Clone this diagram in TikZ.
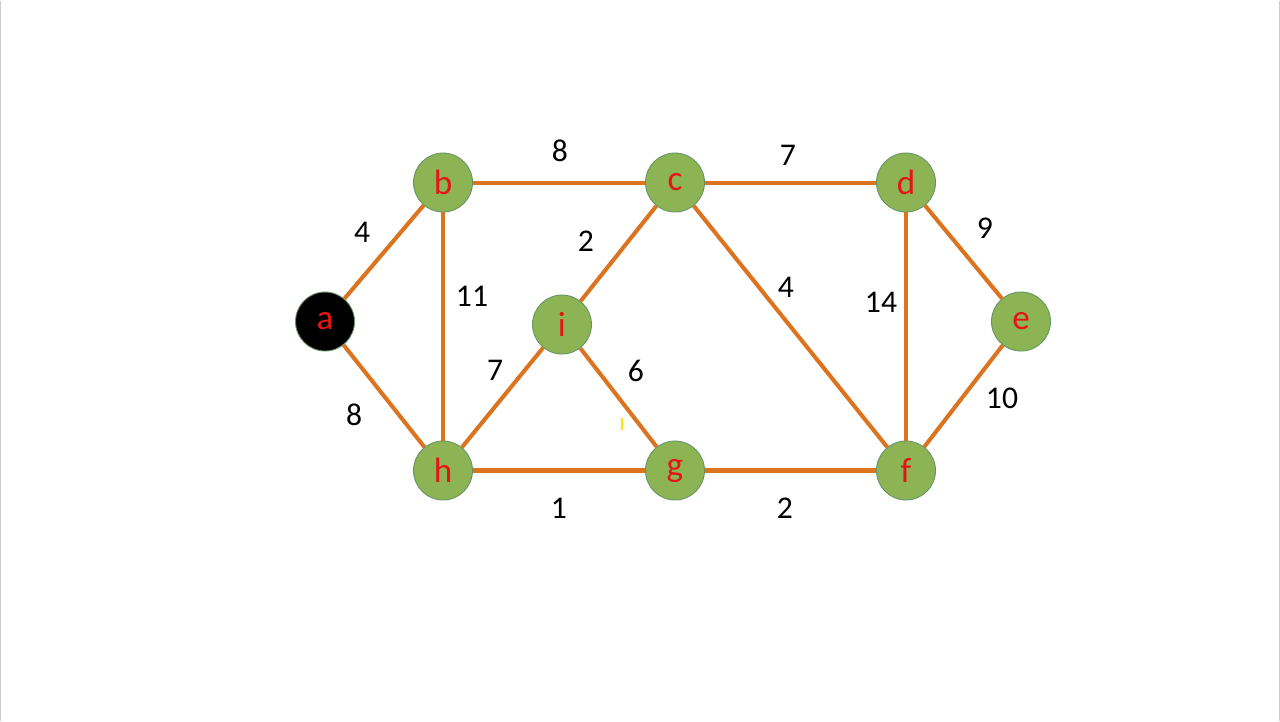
\documentclass[tikz,border=0pt]{standalone}
\usepackage{fontspec}
\setmainfont{Carlito}
\begin{document}
\begin{tikzpicture}[x=0.02cm,y=-0.02cm,
  vert/.style={circle,draw=green!30!black!60,line width=0.5pt,fill={rgb,255:red,141;green,180;blue,84},minimum size=1.18cm,inner sep=0pt,text={rgb,255:red,230;green,20;blue,20},font=\fontsize{20}{24}\selectfont},
  edge/.style={draw={rgb,255:red,220;green,115;blue,30},line width=2.3pt},
  wt/.style={font=\fontsize{18}{22}\selectfont,text=black}]
\fill[white] (0,0) rectangle (1280,720);
\draw[gray!40,line width=0.6pt] (0.5,0) -- (0.5,720) (1279.5,0) -- (1279.5,720);
\node[vert,fill=black] (a) at (325,321) {a};
\node[vert] (b) at (443,182) {b};
\node[vert] (c) at (675,182) {c};
\node[vert] (d) at (906,182) {d};
\node[vert] (e) at (1021,321) {e};
\node[vert] (i) at (562,324) {i};
\node[vert] (h) at (443,470) {h};
\node[vert] (g) at (675,470) {g};
\node[vert] (f) at (906,470) {f};
\draw[edge] (a) -- (b);
\draw[edge] (a) -- (h);
\draw[edge] (b) -- (c);
\draw[edge] (b) -- (h);
\draw[edge] (c) -- (d);
\draw[edge] (c) -- (i);
\draw[edge] (c) -- (f);
\draw[edge] (d) -- (e);
\draw[edge] (d) -- (f);
\draw[edge] (e) -- (f);
\draw[edge] (h) -- (i);
\draw[edge] (i) -- (g);
\draw[edge] (h) -- (g);
\draw[edge] (g) -- (f);
\node[wt] (w1) at (362,232) {4};
\node[wt] (w2) at (560,150) {8};
\node[wt] (w3) at (788,155) {7};
\node[wt] (w4) at (985,228) {9};
\node[wt] (w5) at (472,296) {11};
\node[wt] (w6) at (586,241) {2};
\node[wt] (w7) at (786,287) {4};
\node[wt] (w8) at (881,302) {14};
\node[wt] (w9) at (1002,398) {10};
\node[wt] (w10) at (495,370) {7};
\node[wt] (w11) at (636,370) {6};
\node[wt] (w12) at (354,414) {8};
\node[wt] (w13) at (559,508) {1};
\node[wt] (w14) at (785,508) {2};
\draw[yellow!90!orange,line width=1.5pt] (622,417) -- (622,429);
\end{tikzpicture}
\end{document}
